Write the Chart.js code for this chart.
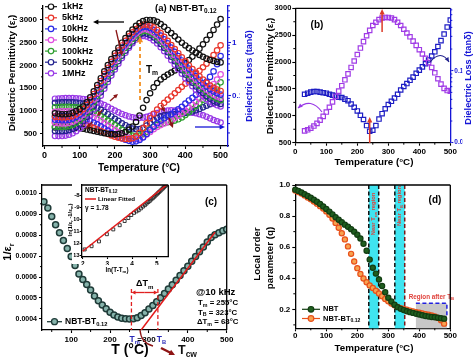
<!DOCTYPE html>
<html>
<head>
<meta charset="utf-8">
<script src="https://cdn.jsdelivr.net/npm/chart.js@4.4.1/dist/chart.umd.min.js"></script>
<style>
  html, body { margin: 0; padding: 0; background: #fff; }
  #wrap { position: relative; width: 474px; height: 361px; overflow: hidden; background: #fff; }
  #wrap canvas { position: absolute; left: 0; top: 0; }
</style>
</head>
<body>
<div id="wrap">
  <canvas id="chartA" width="474" height="361"></canvas>
  <canvas id="chartB" width="474" height="361"></canvas>
  <canvas id="chartC" width="474" height="361"></canvas>
  <canvas id="chartInset" width="474" height="361"></canvas>
  <canvas id="chartD" width="474" height="361"></canvas>
</div>
<script>
// ---- data: panels (a), (b), (c) share the same temperature steps ----
const temps = [30,40,50,60,70,80,90,100,
  110,120,130,140,150,160,170,180,190,200,
  210,220,230,240,250,260,270,280,290,300,
  310,320,330,340,350,360,370,380,390,400,
  410,420,430,440,450,460,470,480,490,500];

const freqLabels = ['1kHz', '5kHz', '10kHz', '50kHz', '100kHz', '500kHz', '1MHz'];

// (a) dielectric permittivity
const perm1k = [950,940,930,930,940,960,1000,1040,
  1100,1190,1300,1430,1570,1720,1870,2010,2140,2270,
  2390,2500,2600,2700,2790,2870,2930,2975,3000,3000,
  2990,2960,2910,2850,2780,2710,2640,2570,2500,2440,
  2380,2330,2280,2230,2190,2150,2120,2100,2080,2068];
const perm5k = [880,870,860,860,870,890,930,980,
  1040,1130,1240,1370,1510,1660,1810,1950,2080,2210,
  2330,2440,2540,2640,2730,2800,2860,2895,2900,2880,
  2840,2780,2710,2630,2540,2450,2360,2270,2180,2090,
  2000,1920,1840,1760,1690,1620,1560,1510,1470,1440];
const perm10k = [810,800,795,795,805,830,870,920,
  985,1075,1185,1315,1455,1605,1755,1895,2030,2160,
  2280,2390,2490,2590,2680,2750,2810,2845,2850,2825,
  2785,2725,2655,2575,2485,2395,2300,2205,2110,2020,
  1930,1845,1765,1685,1610,1540,1480,1430,1390,1360];
const perm50k = [740,730,725,728,740,765,805,855,
  920,1010,1120,1250,1390,1540,1690,1830,1965,2095,
  2215,2330,2435,2535,2625,2700,2760,2795,2795,2770,
  2725,2665,2590,2505,2415,2320,2225,2130,2035,1940,
  1850,1765,1685,1610,1540,1470,1410,1360,1320,1290];
const perm100k = [660,655,650,655,668,695,737,790,
  858,950,1062,1192,1333,1483,1633,1775,1910,2040,
  2162,2278,2385,2487,2580,2657,2720,2757,2755,2728,
  2682,2620,2545,2458,2366,2270,2173,2076,1980,1885,
  1793,1707,1627,1552,1482,1415,1358,1308,1268,1238];
const perm500k = [560,555,555,562,578,607,651,706,
  776,870,984,1116,1259,1410,1561,1704,1840,1972,
  2096,2214,2324,2430,2528,2610,2675,2708,2700,2668,
  2618,2552,2474,2385,2290,2192,2093,1994,1896,1800,
  1708,1620,1540,1465,1395,1330,1273,1224,1185,1155];
const perm1M = [450,448,450,460,478,510,557,615,
  688,785,902,1037,1183,1337,1491,1638,1777,1912,
  2040,2162,2277,2387,2488,2570,2630,2650,2638,2603,
  2550,2482,2402,2312,2215,2116,2016,1916,1818,1722,
  1630,1543,1463,1390,1322,1260,1205,1160,1125,1100];

// (a) dielectric loss tan(delta)
const loss1k = [0.0253,0.0256,0.0258,0.0258,0.0256,0.0253,0.0249,0.0245,
  0.0240,0.0232,0.0225,0.0218,0.0211,0.0204,0.0198,0.0193,0.0190,0.0189,
  0.0191,0.0197,0.0208,0.0230,0.0264,0.0322,0.0426,0.0595,0.0833,0.112,
  0.145,0.175,0.204,0.228,0.252,0.275,0.301,0.332,0.369,0.417,
  0.474,0.550,0.650,0.776,0.935,1.14,1.40,1.75,2.21,2.80];
const loss5k = [0.0316,0.0319,0.0322,0.0322,0.0320,0.0316,0.0310,0.0300,
  0.0289,0.0275,0.0265,0.0249,0.0233,0.0218,0.0204,0.0191,0.0180,0.0170,
  0.0163,0.0157,0.0154,0.0154,0.0159,0.0172,0.0201,0.0245,0.0303,0.0379,
  0.0461,0.0551,0.0646,0.0741,0.0849,0.0975,0.112,0.129,0.148,0.170,
  0.196,0.225,0.259,0.297,0.346,0.405,0.484,0.590,0.722,0.897];
const loss10k = [0.0407,0.0411,0.0415,0.0417,0.0415,0.0411,0.0405,0.0394,
  0.0379,0.0360,0.0336,0.0312,0.0290,0.0266,0.0243,0.0221,0.0202,0.0185,
  0.0170,0.0159,0.0149,0.0142,0.0137,0.0139,0.0148,0.0165,0.0192,0.0226,
  0.0265,0.0304,0.0342,0.0378,0.0413,0.0452,0.0500,0.0558,0.0623,0.0714,
  0.0820,0.0915,0.105,0.126,0.151,0.184,0.228,0.289,0.396,0.564];
const loss50k = [0.0500,0.0505,0.0510,0.0512,0.0510,0.0505,0.0497,0.0486,
  0.0470,0.0450,0.0426,0.0397,0.0367,0.0339,0.0305,0.0276,0.0250,0.0226,
  0.0205,0.0188,0.0173,0.0162,0.0154,0.0153,0.0157,0.0167,0.0186,0.0208,
  0.0235,0.0260,0.0281,0.0301,0.0322,0.0349,0.0381,0.0422,0.0470,0.0529,
  0.0595,0.0677,0.0769,0.0883,0.101,0.119,0.139,0.166,0.203,0.254];
const loss100k = [0.0610,0.0615,0.0620,0.0622,0.0620,0.0617,0.0610,0.0600,
  0.0578,0.0555,0.0528,0.0494,0.0456,0.0418,0.0378,0.0342,0.0310,0.0281,
  0.0254,0.0230,0.0208,0.0191,0.0179,0.0175,0.0179,0.0190,0.0208,0.0235,
  0.0260,0.0281,0.0297,0.0310,0.0319,0.0328,0.0342,0.0362,0.0393,0.0434,
  0.0490,0.0561,0.0644,0.0741,0.0849,0.0975,0.112,0.129,0.151,0.180];
const loss500k = [0.0739,0.0745,0.0754,0.0757,0.0757,0.0754,0.0745,0.0735,
  0.0720,0.0698,0.0667,0.0631,0.0588,0.0546,0.0498,0.0451,0.0409,0.0370,
  0.0338,0.0305,0.0280,0.0258,0.0242,0.0235,0.0237,0.0249,0.0275,0.0310,
  0.0349,0.0385,0.0413,0.0430,0.0439,0.0444,0.0448,0.0452,0.0461,0.0475,
  0.0490,0.0509,0.0535,0.0568,0.0608,0.0652,0.0697,0.0745,0.0791,0.0832];
const loss1M = [0.0884,0.0892,0.0901,0.0910,0.0910,0.0910,0.0901,0.0892,
  0.0875,0.0858,0.0832,0.0800,0.0762,0.0718,0.0670,0.0619,0.0572,0.0528,
  0.0489,0.0456,0.0430,0.0409,0.0395,0.0387,0.0385,0.0389,0.0401,0.0421,
  0.0447,0.0474,0.0498,0.0518,0.0528,0.0534,0.0530,0.0522,0.0512,0.0502,
  0.0493,0.0483,0.0470,0.0451,0.0430,0.0405,0.0377,0.0351,0.0332,0.0314];

// (b) single frequency
const permB = [720,740,770,810,860,920,990,1070,
  1160,1260,1360,1460,1560,1670,1780,1900,2020,2140,
  2260,2380,2490,2590,2680,2740,2790,2820,2830,2830,
  2820,2790,2740,2680,2610,2540,2470,2390,2310,2230,
  2150,2070,1990,1900,1800,1690,1590,1510,1470,1460];
const lossB = [0.0470,0.0487,0.0504,0.0513,0.0513,0.0504,0.0495,0.0487,
  0.0470,0.0458,0.0443,0.0428,0.0424,0.0403,0.0383,0.0345,0.0311,0.0276,
  0.0240,0.0210,0.0173,0.0144,0.0149,0.0173,0.0213,0.0253,0.0296,0.0339,
  0.0376,0.0417,0.0470,0.0540,0.0604,0.0663,0.0736,0.0815,0.0920,0.1019,
  0.113,0.125,0.141,0.160,0.183,0.217,0.262,0.323,0.404,0.505];

// (c) inverse permittivity at 10 kHz and Curie-Weiss fit
const invPermC = [0.000960,0.000930,0.000890,0.000850,0.000812,0.000775,0.000737,0.000698,
  0.000655,0.000615,0.000588,0.000565,0.000538,0.000510,0.000487,0.000466,0.000448,0.000432,
  0.000419,0.000409,0.000403,0.000401,0.000400,0.000401,0.000406,0.000416,0.000430,0.000447,
  0.000464,0.000482,0.000501,0.000522,0.000543,0.000563,0.000585,0.000607,0.000630,0.000652,
  0.000675,0.000698,0.000721,0.000744,0.000767,0.000789,0.000802,0.000812,0.000821,0.000828];
const cwFitT = [280, 470];
const cwFitInv = [0.000347, 0.000814];
const tmC = 255;
const tbC = 323;

// (c) inset: modified Curie-Weiss
const insetLnT = [2.08,2.36,2.66,2.98,3.24,3.50,3.70,3.85,3.97,4.08,4.18,4.27,4.36,4.44,4.52,4.59,
  4.66,4.72,4.78,4.84,4.90,4.95,5.00,5.05,5.10,5.15,5.20,5.25,5.30,5.35,5.40];
const insetLnEps = [-12.47,-12.2,-11.8,-11.2,-10.8,-10.45,-10.1,-9.85,-9.6,-9.42,-9.3,-9.2,-9.05,-8.9,-8.78,-8.65,
  -8.52,-8.42,-8.3,-8.2,-8.08,-7.98,-7.88,-7.78,-7.68,-7.58,-7.48,-7.38,-7.28,-7.18,-7.08];
const insetFitX = [2.0, 5.45];
const insetFitY = [-12.62, -7.02];

// (d) local order parameter
const tempD = [0,10,20,30,40,50,60,70,80,90,
  100,110,120,130,140,150,160,170,180,190,
  200,210,220,230,240,250,260,270,280,290,
  300,310,320,330,340,350,360,370,380,390,
  400,410,420,430,440,450,460,470,480];
const qNBT = [0.970,0.962,0.952,0.941,0.930,0.918,0.905,0.892,0.878,0.862,
  0.846,0.829,0.811,0.793,0.776,0.760,0.745,0.731,0.716,0.700,
  0.680,0.656,0.622,0.577,0.520,0.468,0.430,0.392,0.350,0.310,
  0.275,0.250,0.230,0.214,0.203,0.195,0.188,0.182,0.177,0.172,
  0.167,0.162,0.157,0.154,0.151,0.149,0.146,0.143,0.140];
const qBT = [0.965,0.955,0.945,0.933,0.920,0.908,0.894,0.880,0.864,0.848,
  0.830,0.808,0.784,0.756,0.725,0.690,0.650,0.605,0.557,0.508,
  0.465,0.428,0.398,0.374,0.354,0.337,0.320,0.302,0.284,0.267,
  0.252,0.238,0.226,0.216,0.208,0.202,0.197,0.192,0.187,0.182,
  0.178,0.174,0.169,0.165,0.160,0.154,0.145,0.130,0.108];
const bandsD = [[237, 269], [321, 353]];
const grayBoxD = [389, 489, 0.239];

// ---- ticks ----
const xTicksA = [0, 100, 200, 300, 400, 500];
const minorXA = [50, 150, 250, 350, 450];
const permTicks = [500, 1000, 1500, 2000, 2500, 3000];
const minorPerm = [750, 1250, 1750, 2250, 2750, 3250];
const lossTicksA = [0.1, 1];
const lossLabelsA = ['0.1', '1'];
const minorLossA = [0.02,0.03,0.04,0.05,0.06,0.07,0.08,0.09,0.2,0.3,0.4,0.5,0.6,0.7,0.8,0.9,2,3,4,5];
const lossTicksB = [0.01, 0.1];
const lossLabelsB = ['0.01', '0.1'];
const minorLossB = [0.02,0.03,0.04,0.05,0.06,0.07,0.08,0.09,0.2,0.3,0.4,0.5,0.6,0.7];
const xTicksC = [100, 200, 300, 400, 500];
const minorXC = [50, 150, 250, 350, 450];
const invTicksC = [0.0004, 0.0005, 0.0006, 0.0007, 0.0008, 0.0009, 0.0010];
const minorInvC = [0.00045, 0.00055, 0.00065, 0.00075, 0.00085, 0.00095];
const insetXTicks = [2, 3, 4, 5];
const insetYTicks = [-13, -12, -11, -10, -9, -8];
const qTicks = [0.2, 0.4, 0.6, 0.8, 1.0];
const minorQ = [0.1, 0.3, 0.5, 0.7, 0.9];

// ---- styles ----
const FONT = '"Liberation Sans", Arial, Helvetica, sans-serif';
const BLUE = '#1616d6';
const freqColors = ['#111111', '#e8352b', '#2a2ae6', '#e04ee0', '#2f9e2f', '#23238f', '#9838e6'];

// ---- helpers ----
function fixBox(size) {
  return (s) => {
    if (s.isHorizontal()) s.height = size; else s.width = size;
    s.paddingLeft = 0; s.paddingRight = 0; s.paddingTop = 0; s.paddingBottom = 0;
  };
}

function axis(o) {
  const color = o.color || '#000';
  return {
    type: o.type || 'linear',
    position: o.position,
    min: o.min, max: o.max,
    afterBuildTicks: (s) => { s.ticks = o.ticks.map(v => ({ value: v })); },
    afterFit: fixBox(o.size),
    grid: { display: true, drawOnChartArea: false, drawTicks: true, tickLength: o.tickLen || 3, tickColor: color, tickWidth: 1.1 },
    border: { display: true, color: color, width: 1.3 },
    ticks: { color: color, padding: o.pad === undefined ? 2 : o.pad, autoSkip: false, maxRotation: 0,
      font: { family: FONT, size: o.fontSize || 8, weight: 'bold' }, callback: o.format }
  };
}

function series(xs, ys, color, extra) {
  return Object.assign({
    data: xs.map((x, i) => ({ x: x, y: ys[i] })),
    showLine: false, pointStyle: 'circle', pointRadius: 2.7, pointBorderWidth: 1.2,
    pointBorderColor: color, pointBackgroundColor: 'rgba(255,255,255,0)',
    borderColor: color, backgroundColor: 'rgba(255,255,255,0)'
  }, extra || {});
}

function baseOptions(padding, scales) {
  return {
    responsive: false, animation: false, devicePixelRatio: 1, events: [],
    layout: { padding: padding },
    plugins: { legend: { display: false }, tooltip: { enabled: false } },
    scales: scales
  };
}

function text(ctx, str, x, y, size, color, rot, align) {
  const parts = str.split(/(_\{[^}]*\})/).filter(p => p).map(p =>
    p.startsWith('_{') ? { t: p.slice(2, -1), sub: true } : { t: p, sub: false });
  const font = sub => 'bold ' + (sub ? size * 0.68 : size) + 'px ' + FONT;
  ctx.save();
  ctx.translate(x, y);
  if (rot) ctx.rotate(rot);
  ctx.textBaseline = 'middle';
  ctx.fillStyle = color;
  let w = 0;
  parts.forEach(p => { ctx.font = font(p.sub); p.w = ctx.measureText(p.t).width; w += p.w; });
  let cx = align === 'left' ? 0 : align === 'right' ? -w : -w / 2;
  parts.forEach(p => { ctx.font = font(p.sub); ctx.fillText(p.t, cx, p.sub ? size * 0.32 : 0); cx += p.w; });
  ctx.restore();
}

function head(ctx, x, y, ang, size, color) {
  ctx.save();
  ctx.fillStyle = color;
  ctx.beginPath();
  ctx.moveTo(x, y);
  ctx.lineTo(x - size * Math.cos(ang - 0.45), y - size * Math.sin(ang - 0.45));
  ctx.lineTo(x - size * Math.cos(ang + 0.45), y - size * Math.sin(ang + 0.45));
  ctx.closePath();
  ctx.fill();
  ctx.restore();
}

function arrow(ctx, x1, y1, x2, y2, color, lw, hs, dash) {
  const ang = Math.atan2(y2 - y1, x2 - x1);
  ctx.save();
  ctx.strokeStyle = color; ctx.lineWidth = lw;
  if (dash) ctx.setLineDash(dash);
  ctx.beginPath();
  ctx.moveTo(x1, y1);
  ctx.lineTo(x2 - Math.cos(ang) * hs * 0.7, y2 - Math.sin(ang) * hs * 0.7);
  ctx.stroke();
  ctx.restore();
  head(ctx, x2, y2, ang, hs, color);
}

function curvedArrow(ctx, x1, y1, cx, cy, x2, y2, color, lw, hs) {
  ctx.save();
  ctx.strokeStyle = color; ctx.lineWidth = lw;
  ctx.beginPath();
  ctx.moveTo(x1, y1);
  ctx.quadraticCurveTo(cx, cy, x2, y2);
  ctx.stroke();
  ctx.restore();
  head(ctx, x2, y2, Math.atan2(y2 - cy, x2 - cx), hs, color);
}

function minor(chart, scale, values, len, color) {
  const ctx = chart.ctx, a = chart.chartArea;
  ctx.save();
  ctx.strokeStyle = color || '#000';
  ctx.lineWidth = 1;
  ctx.beginPath();
  values.forEach(v => {
    const p = scale.getPixelForValue(v);
    if (scale.isHorizontal()) {
      if (p < a.left || p > a.right) return;
      ctx.moveTo(p, a.bottom); ctx.lineTo(p, a.bottom + len);
    } else {
      if (p < a.top || p > a.bottom) return;
      if (scale.position === 'left') { ctx.moveTo(a.left - len, p); ctx.lineTo(a.left, p); }
      else { ctx.moveTo(a.right, p); ctx.lineTo(a.right + len, p); }
    }
  });
  ctx.stroke();
  ctx.restore();
}

function frame(chart, sides) {
  const ctx = chart.ctx, a = chart.chartArea;
  ctx.save();
  ctx.strokeStyle = '#000';
  ctx.lineWidth = 1.3;
  ctx.beginPath();
  if (sides.indexOf('t') >= 0) { ctx.moveTo(a.left, a.top); ctx.lineTo(a.right, a.top); }
  if (sides.indexOf('r') >= 0) { ctx.moveTo(a.right, a.top); ctx.lineTo(a.right, a.bottom); }
  ctx.stroke();
  ctx.restore();
}

// ---- panel (a) ----
const permSets = [perm1k, perm5k, perm10k, perm50k, perm100k, perm500k, perm1M];
const lossSets = [loss1k, loss5k, loss10k, loss50k, loss100k, loss500k, loss1M];

const decoA = {
  id: 'decoA',
  afterDraw(chart) {
    const ctx = chart.ctx, s = chart.scales;
    minor(chart, s.x, minorXA, 2);
    minor(chart, s.y, minorPerm, 2);
    minor(chart, s.y2, minorLossA, 2, BLUE);

    freqLabels.forEach((lab, i) => {
      const y = 6.7 + i * 11.1;
      ctx.save();
      ctx.strokeStyle = freqColors[i];
      ctx.lineWidth = 1.2;
      ctx.beginPath(); ctx.moveTo(45, y); ctx.lineTo(57, y); ctx.stroke();
      ctx.fillStyle = '#fff';
      ctx.beginPath(); ctx.arc(51, y, 2.7, 0, Math.PI * 2); ctx.fill(); ctx.stroke();
      ctx.restore();
      text(ctx, lab, 62, y, 9, '#000', 0, 'left');
    });

    text(ctx, '(a) NBT-BT_{0.12}', 155, 8, 9.5, '#000', 0, 'left');
    arrow(ctx, 124, 22, 93, 22, '#000', 1.3, 6);
    arrow(ctx, 195, 127, 225, 127, BLUE, 1.3, 6);
    arrow(ctx, 140, 100, 140, 36, '#f39020', 1.8, 7, [4, 3]);
    text(ctx, 'T_{m}', 146, 70, 10, '#000', 0, 'left');

    const dr = '#8a1616';
    arrow(ctx, 116, 30, 122, 56, dr, 1.3, 5);
    arrow(ctx, 110, 101, 118, 94, dr, 1.3, 5);
    arrow(ctx, 102, 110, 97, 116, dr, 1.3, 5);
    arrow(ctx, 92, 122, 87, 128, dr, 1.3, 5);
    arrow(ctx, 161, 105, 165, 112, dr, 1.3, 5);
    arrow(ctx, 169, 118, 173, 128, dr, 1.8, 6);

    text(ctx, 'Dielectric Permittivity (\u03b5_{r})', 12, 73, 9.8, '#000', -Math.PI / 2);
    text(ctx, 'Dielectric Loss (tan\u03b4)', 250, 76, 9, BLUE, -Math.PI / 2);
    text(ctx, 'Temperature (\u00b0C)', 139, 168, 10.2, '#000', 0);
  }
};

new Chart(document.getElementById('chartA'), {
  type: 'scatter',
  data: {
    datasets: permSets.map((arr, i) => series(temps, arr, freqColors[i], { yAxisID: 'y' }))
      .concat(lossSets.map((arr, i) => series(temps, arr, freqColors[i], { yAxisID: 'y2' })))
  },
  options: baseOptions({ left: 0, top: 0, right: 234, bottom: 185 }, {
    x: axis({ position: 'bottom', min: -4, max: 521, ticks: xTicksA, size: 30, fontSize: 9, pad: 1, format: v => String(v) }),
    y: axis({ position: 'left', min: 231, max: 3324, ticks: permTicks, size: 43, fontSize: 8, pad: 3, format: v => String(v) }),
    y2: axis({ type: 'logarithmic', position: 'right', min: 0.01135, max: 5.12, ticks: lossTicksA, size: 12,
      color: BLUE, fontSize: 8, pad: 1, format: (v, i) => lossLabelsA[i] })
  }),
  plugins: [decoA]
});

// ---- panel (b) ----
const decoB = {
  id: 'decoB',
  afterDraw(chart) {
    const ctx = chart.ctx, s = chart.scales;
    frame(chart, 't');
    minor(chart, s.x, minorXA, 2);
    minor(chart, s.y, minorPerm, 2);
    minor(chart, s.y2, minorLossB, 2, BLUE);
    text(ctx, '(b)', 317, 25, 10, '#000', 0);
    const red = '#dc3a28';
    const xPeak = s.x.getPixelForValue(280), xMin = s.x.getPixelForValue(240);
    arrow(ctx, xPeak, 32, xPeak, 9, red, 1.5, 6);
    arrow(ctx, xMin, 143, xMin, 117, red, 1.5, 6);
    curvedArrow(ctx, 322, 112, 311, 97, 298, 108, '#9838e6', 1.2, 5);
    curvedArrow(ctx, 430, 62, 441, 49, 449, 62, '#23238f', 1.2, 5);
    text(ctx, 'Dielectric Permittivity (\u03b5_{r})', 270, 76, 9.8, '#000', -Math.PI / 2);
    text(ctx, 'Dielectric Loss (tan\u03b4)', 468, 78, 9.2, BLUE, -Math.PI / 2);
    text(ctx, 'Temperature (\u00b0C)', 374, 162, 9.8, '#000', 0);
  }
};

new Chart(document.getElementById('chartB'), {
  type: 'scatter',
  data: {
    datasets: [
      series(temps, permB, '#a03be6', { yAxisID: 'y', pointStyle: 'rect', pointRadius: 3.1, pointBorderWidth: 1.2 }),
      series(temps, lossB, '#1e1ec4', { yAxisID: 'y2', pointStyle: 'rect', pointRadius: 3.1, pointBorderWidth: 1.2 })
    ]
  },
  options: baseOptions({ left: 270.3, top: 8.3, right: 11.7, bottom: 198.3 }, {
    x: axis({ position: 'bottom', min: 0, max: 500, ticks: xTicksA, size: 20, fontSize: 8, pad: 1, format: v => String(v) }),
    y: axis({ position: 'left', min: 500, max: 3000, ticks: permTicks, size: 25, fontSize: 7.5, pad: 1, format: v => String(v) }),
    y2: axis({ type: 'logarithmic', position: 'right', min: 0.01, max: 0.736, ticks: lossTicksB, size: 12,
      color: BLUE, fontSize: 6.5, pad: 1, format: (v, i) => lossLabelsB[i] })
  }),
  plugins: [decoB]
});

// ---- panel (c) ----
const decoC = {
  id: 'decoC',
  afterDraw(chart) {
    const ctx = chart.ctx, s = chart.scales, a = chart.chartArea;
    frame(chart, 'tr');
    minor(chart, s.x, minorXC, 2);
    minor(chart, s.y, minorInvC, 2);
    const red = '#e02020';
    const xm = s.x.getPixelForValue(tmC), xb = s.x.getPixelForValue(tbC);
    ctx.save();
    ctx.strokeStyle = red; ctx.lineWidth = 1.3; ctx.setLineDash([4, 2.5]);
    ctx.beginPath();
    ctx.moveTo(xm, 289); ctx.lineTo(xm, a.bottom);
    ctx.moveTo(xb, 289); ctx.lineTo(xb, a.bottom);
    ctx.stroke();
    ctx.restore();
    arrow(ctx, (xm + xb) / 2, 292.5, xb, 292.5, red, 1.3, 4.5);
    arrow(ctx, (xm + xb) / 2, 292.5, xm, 292.5, red, 1.3, 4.5);
    text(ctx, '\u0394T_{m}', (xm + xb) / 2, 284, 9, '#000', 0);

    text(ctx, 'T_{m}', xm - 2, 340, 8.5, '#2a2ab8', 0, 'left');
    text(ctx, '=', 142, 340, 8, '#000', 0, 'right');
    text(ctx, 'T_{B}', xb - 1, 340, 8.5, '#2a2ab8', 0, 'left');

    ctx.save();
    ctx.strokeStyle = '#8e1414'; ctx.lineWidth = 1.3;
    ctx.beginPath(); ctx.moveTo(140, 330); ctx.quadraticCurveTo(141, 343, 153, 346); ctx.stroke();
    ctx.restore();
    arrow(ctx, 161, 348, 175, 355, '#8e1414', 2.4, 6.5);
    text(ctx, 'T_{cw}', 178, 351, 12.5, '#111', 0, 'left');

    text(ctx, '(c)', 211, 202, 10, '#000', 0);
    text(ctx, '@10 kHz', 196, 292, 9.5, '#000', 0, 'left');
    text(ctx, 'T_{m} = 255\u00b0C', 198, 303, 7.8, '#000', 0, 'left');
    text(ctx, 'T_{B} = 323\u00b0C', 198, 312.5, 7.8, '#000', 0, 'left');
    text(ctx, '\u0394T_{m} = 68\u00b0C', 197, 322, 7.8, '#000', 0, 'left');

    ctx.save();
    ctx.strokeStyle = '#1f3b38'; ctx.lineWidth = 1.3;
    ctx.beginPath(); ctx.moveTo(47, 321.7); ctx.lineTo(62, 321.7); ctx.stroke();
    ctx.fillStyle = '#86b3ab';
    ctx.beginPath(); ctx.arc(54.5, 321.7, 3, 0, Math.PI * 2); ctx.fill(); ctx.stroke();
    ctx.restore();
    text(ctx, 'NBT-BT_{0.12}', 65, 321.7, 8.5, '#000', 0, 'left');

    text(ctx, '1/\u03b5_{r}', 8, 252, 11, '#000', -Math.PI / 2);
    text(ctx, 'T (\u00b0C)', 130, 350, 14, '#000', 0);
  }
};

new Chart(document.getElementById('chartC'), {
  type: 'scatter',
  data: {
    datasets: [
      { data: cwFitT.map((t, i) => ({ x: t, y: cwFitInv[i] })), showLine: true, borderColor: '#e31a1a', borderWidth: 1.5, pointRadius: 0 },
      series(temps, invPermC, '#1f3b38', { pointBackgroundColor: '#86b3ab', pointRadius: 3, pointBorderWidth: 1.5 })
    ]
  },
  options: baseOptions({ left: 12, top: 185, right: 247.3, bottom: 11 }, {
    x: axis({ position: 'bottom', min: 25, max: 500, ticks: xTicksC, size: 20, fontSize: 8, pad: 2, format: v => String(v) }),
    y: axis({ position: 'left', min: 0.000347, max: 0.00104, ticks: invTicksC, size: 30, fontSize: 7, pad: 2, format: v => v.toFixed(4) })
  }),
  plugins: [decoC]
});

// ---- panel (c) inset ----
const decoInset = {
  id: 'decoInset',
  beforeDraw(chart) {
    const ctx = chart.ctx;
    ctx.save();
    ctx.fillStyle = '#fff';
    ctx.fillRect(72, 184, 98, 80);
    ctx.restore();
  },
  afterDraw(chart) {
    const ctx = chart.ctx;
    frame(chart, 'tr');
    text(ctx, 'NBT-BT_{0.12}', 85, 190, 6.5, '#000', 0, 'left');
    ctx.save();
    ctx.strokeStyle = '#e31a1a'; ctx.lineWidth = 1.5;
    ctx.beginPath(); ctx.moveTo(85, 199); ctx.lineTo(96, 199); ctx.stroke();
    ctx.restore();
    text(ctx, 'Linear Fitted', 98, 199, 6.2, '#000', 0, 'left');
    text(ctx, '\u03b3 = 1.78', 85, 208, 6.5, '#000', 0, 'left');
    text(ctx, 'ln(1/\u03b5_{r} -1/\u03b5_{m})', 70, 220, 5.8, '#000', -Math.PI / 2);
    text(ctx, 'ln(T-T_{m})', 117, 270, 6.3, '#000', 0);
  }
};

new Chart(document.getElementById('chartInset'), {
  type: 'scatter',
  data: {
    datasets: [
      { data: insetFitX.map((x, i) => ({ x: x, y: insetFitY[i] })), showLine: true, borderColor: '#e31a1a', borderWidth: 1.5, pointRadius: 0 },
      series(insetLnT, insetLnEps, '#222', { pointStyle: 'rect', pointRadius: 2.1, pointBorderWidth: 0.9 })
    ]
  },
  options: baseOptions({ left: 73.7, top: 185, right: 305.7, bottom: 96 }, {
    x: axis({ position: 'bottom', min: 1.96, max: 5.47, ticks: insetXTicks, size: 8, fontSize: 6.5, pad: 1, tickLen: 2, format: v => String(v) }),
    y: axis({ position: 'left', min: -13.1, max: -7.1, ticks: insetYTicks, size: 8, fontSize: 6, pad: 0, tickLen: 2, format: v => String(v) })
  }),
  plugins: [decoInset]
});

// ---- panel (d) ----
const decoD = {
  id: 'decoD',
  beforeDatasetsDraw(chart) {
    const ctx = chart.ctx, a = chart.chartArea, x = chart.scales.x, y = chart.scales.y;
    ctx.save();
    ctx.fillStyle = '#3fe4f0';
    bandsD.forEach(b => {
      const x0 = x.getPixelForValue(b[0]), x1 = x.getPixelForValue(b[1]);
      ctx.fillRect(x0, a.top, x1 - x0, a.bottom - a.top);
    });
    const gx0 = x.getPixelForValue(grayBoxD[0]), gx1 = x.getPixelForValue(grayBoxD[1]), gy = y.getPixelForValue(grayBoxD[2]);
    ctx.fillStyle = '#c8c8c8';
    ctx.fillRect(gx0, gy, gx1 - gx0, a.bottom - gy);
    ctx.lineWidth = 1.5;
    ctx.setLineDash([4, 2.5]);
    const edges = [[bandsD[0][0], '#111'], [bandsD[0][1], '#111'], [bandsD[1][0], '#111'], [bandsD[1][1], '#7a1a1a']];
    edges.forEach(e => {
      const px = x.getPixelForValue(e[0]);
      ctx.strokeStyle = e[1];
      ctx.beginPath(); ctx.moveTo(px, a.top); ctx.lineTo(px, a.bottom); ctx.stroke();
    });
    ctx.strokeStyle = '#2020e0';
    ctx.beginPath();
    ctx.moveTo(gx0, gy); ctx.lineTo(gx1, gy); ctx.lineTo(gx1, a.bottom - 12);
    ctx.stroke();
    ctx.restore();
    const red = '#e0403a';
    text(ctx, 'Near T_{cw} region', (x.getPixelForValue(bandsD[0][0]) + x.getPixelForValue(bandsD[0][1])) / 2, 214, 5.8, red, -Math.PI / 2);
    text(ctx, 'Near T_{B} region', (x.getPixelForValue(bandsD[1][0]) + x.getPixelForValue(bandsD[1][1])) / 2, 206, 5.8, red, -Math.PI / 2);
    text(ctx, 'Region after T_{B}', (gx0 + gx1) / 2, 297, 6.3, red, 0);
  },
  afterDraw(chart) {
    const ctx = chart.ctx, s = chart.scales;
    frame(chart, 'tr');
    minor(chart, s.x, minorXA, 2);
    minor(chart, s.y, minorQ, 2);
    text(ctx, '(d)', 435, 200, 10, '#000', 0);

    ctx.save();
    ctx.lineWidth = 1.2;
    ctx.strokeStyle = '#123d12'; ctx.fillStyle = '#1f5f1f';
    ctx.beginPath(); ctx.moveTo(302, 309.3); ctx.lineTo(320, 309.3); ctx.stroke();
    ctx.beginPath(); ctx.arc(311, 309.3, 2.8, 0, Math.PI * 2); ctx.fill(); ctx.stroke();
    ctx.strokeStyle = '#e8501a'; ctx.fillStyle = '#f7a350';
    ctx.beginPath(); ctx.moveTo(302, 318.5); ctx.lineTo(320, 318.5); ctx.stroke();
    ctx.beginPath(); ctx.arc(311, 318.5, 2.8, 0, Math.PI * 2); ctx.fill(); ctx.stroke();
    ctx.restore();
    text(ctx, 'NBT', 323, 309.3, 7.5, '#000', 0, 'left');
    text(ctx, 'NBT-BT_{0.12}', 323, 318.5, 7.5, '#000', 0, 'left');

    text(ctx, 'Local order', 257, 254, 9.8, '#000', -Math.PI / 2);
    text(ctx, 'parameter (q)', 270, 258, 9.8, '#000', -Math.PI / 2);
    text(ctx, 'Temperature (\u00b0C)', 374, 348, 9.8, '#000', 0);
  }
};

new Chart(document.getElementById('chartD'), {
  type: 'scatter',
  data: {
    datasets: [
      series(tempD, qNBT, '#123d12', { pointBackgroundColor: '#1f5f1f', pointRadius: 2.6, clip: false }),
      series(tempD, qBT, '#e8501a', { pointBackgroundColor: '#f7a350', pointRadius: 2.6, clip: false })
    ]
  },
  options: baseOptions({ left: 275.3, top: 185, right: 23.7, bottom: 12.7 }, {
    x: axis({ position: 'bottom', min: 0, max: 500, ticks: xTicksA, size: 20, fontSize: 8, pad: 0, format: v => String(v) }),
    y: axis({ position: 'left', min: 0.078, max: 1.0, ticks: qTicks, size: 20, fontSize: 8, pad: 2, format: v => v.toFixed(1) })
  }),
  plugins: [decoD]
});
</script>
</body>
</html>
